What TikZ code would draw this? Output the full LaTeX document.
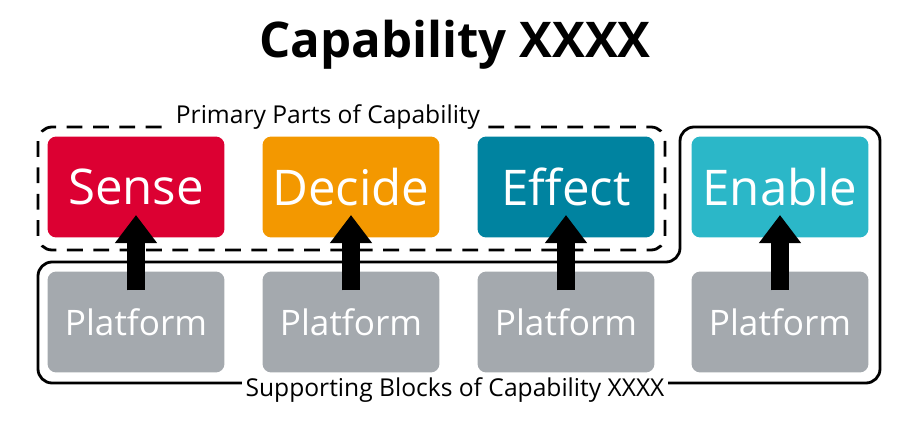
\documentclass[tikz,border=0pt]{standalone}
\usepackage{fontspec}
\setmainfont{Open Sans}
\usetikzlibrary{arrows.meta}
\definecolor{senseRed}{HTML}{DC0032}
\definecolor{decideOrange}{HTML}{F39800}
\definecolor{effectTeal}{HTML}{0083A0}
\definecolor{enableCyan}{HTML}{2BB7C8}
\definecolor{platformGray}{HTML}{A4A9AE}
\tikzset{
  part/.style={rounded corners=5pt, minimum width=3.54cm, minimum height=2.02cm, text=white, font=\fontsize{28}{30}\selectfont},
  platform/.style={part, fill=platformGray, font=\fontsize{20}{22}\selectfont},
  uparrow/.style={line width=10pt, -{Triangle[width=23pt,length=16pt]}},
  label/.style={fill=white, inner sep=2pt, font=\fontsize{14}{16}\selectfont}
}
\begin{document}
\begin{tikzpicture}[x=0.02cm, y=-0.02cm]
    \useasboundingbox (0,0) rectangle (909,423);
    \node[font=\bfseries\fontsize{28}{30}\selectfont] (title) at (455,45) {Capability XXXX};
    % primary parts
    \node[part, fill=senseRed] (sense) at (136,187) {Sense};
    \node[part, fill=decideOrange] (decide) at (351,187) {Decide};
    \node[part, fill=effectTeal] (effect) at (566,187) {Effect};
    \node[part, fill=enableCyan] (enable) at (780,187) {Enable};
    % platforms
    \node[platform] (p1) at (136,322) {Platform};
    \node[platform] (p2) at (351,322) {Platform};
    \node[platform] (p3) at (566,322) {Platform};
    \node[platform] (p4) at (780,322) {Platform};
    % outlines
    \draw[line width=1.6pt, dash pattern=on 9pt off 6pt, rounded corners=8pt] (38,127) rectangle (665,250);
    \draw[line width=1.6pt, rounded corners=8pt] (38,262) -- (680,262) -- (680,127) -- (880,127) -- (880,383) -- (38,383) -- cycle;
    \node[label] (primary) at (328,117) {Primary Parts of Capability};
    \node[label] (support) at (455,390) {Supporting Blocks of Capability XXXX};
    % arrows
    \foreach \p/\t in {p1/sense, p2/decide, p3/effect, p4/enable}
      \draw[uparrow] ([yshift=-11pt]\p.north) -- ([yshift=13pt]\t.south);
\end{tikzpicture}
\end{document}
